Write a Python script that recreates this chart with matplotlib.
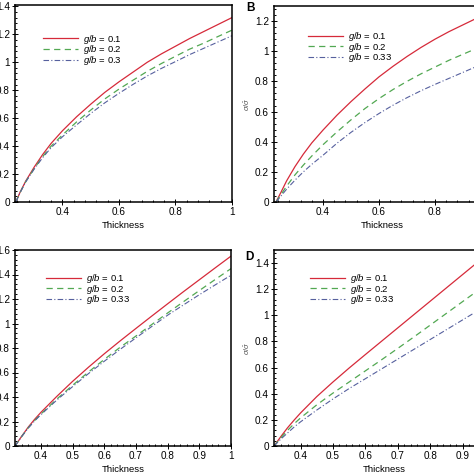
import numpy as np
import matplotlib
matplotlib.use('Agg')
import matplotlib.pyplot as plt
from matplotlib.ticker import MultipleLocator

plt.rcParams['font.family'] = ['Liberation Sans', 'DejaVu Sans']
plt.rcParams['mathtext.fontset'] = 'custom'
plt.rcParams['mathtext.rm'] = 'Liberation Sans'
plt.rcParams['mathtext.it'] = 'Liberation Sans:italic'

# --- data ---
# panel A
xa = [0.235, 0.25, 0.27, 0.30, 0.33, 0.36, 0.40, 0.45, 0.50, 0.55, 0.60, 0.65, 0.70, 0.75, 0.80, 0.85, 0.90, 0.95, 1.00]
ya_01 = [0, 0.07, 0.15, 0.25, 0.34, 0.42, 0.51, 0.61, 0.70, 0.785, 0.86, 0.93, 1.0, 1.06, 1.115, 1.17, 1.22, 1.27, 1.32]
ya_02 = [0, 0.068, 0.146, 0.24, 0.325, 0.40, 0.48, 0.573, 0.658, 0.738, 0.808, 0.872, 0.935, 0.991, 1.043, 1.094, 1.137, 1.184, 1.23]
ya_03 = [0, 0.067, 0.144, 0.236, 0.318, 0.389, 0.467, 0.552, 0.634, 0.71, 0.778, 0.842, 0.902, 0.956, 1.005, 1.055, 1.10, 1.145, 1.19]
labels_a = ['0.1', '0.2', '0.3']

# panel B
xb = [0.232, 0.25, 0.27, 0.30, 0.33, 0.36, 0.40, 0.45, 0.50, 0.55, 0.60, 0.65, 0.70, 0.75, 0.80, 0.85, 0.90, 0.95, 1.00]
yb_01 = [0, 0.065, 0.14, 0.235, 0.318, 0.392, 0.477, 0.576, 0.666, 0.75, 0.83, 0.90, 0.965, 1.025, 1.08, 1.13, 1.175, 1.22, 1.26]
yb_02 = [0, 0.05, 0.105, 0.18, 0.245, 0.305, 0.38, 0.465, 0.545, 0.62, 0.686, 0.746, 0.80, 0.85, 0.895, 0.94, 0.98, 1.02, 1.055]
yb_033 = [0, 0.04, 0.085, 0.145, 0.20, 0.25, 0.31, 0.39, 0.462, 0.527, 0.587, 0.642, 0.692, 0.738, 0.78, 0.82, 0.86, 0.90, 0.935]
labels_b = ['0.1', '0.2', '0.33']

# panel C
xc = [0.318, 0.34, 0.36, 0.38, 0.40, 0.45, 0.50, 0.55, 0.60, 0.65, 0.70, 0.75, 0.80, 0.85, 0.90, 0.95, 1.00]
yc_01 = [0, 0.083, 0.155, 0.218, 0.275, 0.405, 0.528, 0.643, 0.753, 0.858, 0.96, 1.061, 1.161, 1.26, 1.357, 1.454, 1.55]
yc_02 = [0, 0.081, 0.149, 0.208, 0.261, 0.383, 0.496, 0.604, 0.707, 0.806, 0.898, 0.992, 1.086, 1.178, 1.269, 1.359, 1.448]
yc_033 = [0, 0.080, 0.147, 0.205, 0.256, 0.375, 0.485, 0.591, 0.692, 0.789, 0.883, 0.976, 1.068, 1.152, 1.235, 1.315, 1.394]
labels_c = ['0.1', '0.2', '0.33']

# panel D
xd = [0.318, 0.34, 0.36, 0.38, 0.40, 0.45, 0.50, 0.55, 0.60, 0.65, 0.70, 0.75, 0.80, 0.85, 0.90, 0.95, 1.00]
yd_01 = [0, 0.075, 0.14, 0.198, 0.253, 0.378, 0.49, 0.597, 0.70, 0.802, 0.904, 1.006, 1.108, 1.21, 1.312, 1.414, 1.516]
yd_02 = [0, 0.065, 0.12, 0.17, 0.215, 0.315, 0.405, 0.49, 0.575, 0.66, 0.747, 0.835, 0.925, 1.015, 1.105, 1.195, 1.285]
yd_033 = [0, 0.055, 0.10, 0.145, 0.185, 0.275, 0.36, 0.44, 0.515, 0.59, 0.665, 0.74, 0.815, 0.89, 0.965, 1.04, 1.115]
labels_d = ['0.1', '0.2', '0.33']

RED = '#d62a3a'
GREEN = '#52a852'
BLUE = '#56609e'
W, H = 474.0, 474.0


def make_ax(fig, left, top, right, bottom):
    # pixel box -> figure fraction
    return fig.add_axes([left / W, 1 - bottom / H, (right - left) / W, (bottom - top) / H])


def fmt(limit):
    return plt.FuncFormatter(lambda v, p: f'{v:g}' if v <= limit else '')


def style(ax, xlim, ylim, xmaj, xmin, ymaj, ymin, xlab_max=1.01):
    ax.set_xlim(*xlim)
    ax.set_ylim(*ylim)
    ax.xaxis.set_major_locator(MultipleLocator(xmaj))
    ax.xaxis.set_minor_locator(MultipleLocator(xmin))
    ax.yaxis.set_major_locator(MultipleLocator(ymaj))
    ax.yaxis.set_minor_locator(MultipleLocator(ymin))
    ax.xaxis.set_major_formatter(fmt(xlab_max))
    ax.yaxis.set_major_formatter(fmt(10))
    ax.tick_params(which='both', top=False, right=False, labelsize=7.2, width=0.7)
    ax.tick_params(which='major', direction='inout', length=4.5, pad=1.5)
    ax.tick_params(which='minor', direction='in', length=1.6)
    for s in ax.spines.values():
        s.set_linewidth(1.1)
    ax.set_xlabel('Thickness', fontsize=6.8, labelpad=2.5)


def curves(ax, x, y1, y2, y3, labs, anchor):
    ax.plot(x, y1, color=RED, lw=0.9, label=rf'$g/b$ = {labs[0]}')
    ax.plot(x, y2, color=GREEN, lw=0.9, dashes=(5, 3.5), label=rf'$g/b$ = {labs[1]}')
    ax.plot(x, y3, color=BLUE, lw=0.8, dashes=(5, 2, 1, 2), label=rf'$g/b$ = {labs[2]}')
    ax.legend(loc='upper left', bbox_to_anchor=anchor, frameon=False, fontsize=6.8,
              handlelength=3.7, handletextpad=0.55, labelspacing=-0.25,
              borderpad=0, borderaxespad=0)


fig = plt.figure(figsize=(4.74, 4.74), dpi=100)

axA = make_ax(fig, 15, 5, 232, 202)
curves(axA, xa, ya_01, ya_02, ya_03, labels_a, (0.129, 0.86))
style(axA, (0.232, 1.0), (0, 1.41), 0.2, 0.04, 0.2, 0.04)

axB = make_ax(fig, 274, 6, 491, 202)
curves(axB, xb, yb_01, yb_02, yb_033, labels_b, (0.157, 0.877))
style(axB, (0.225, 1.0), (0, 1.3), 0.2, 0.04, 0.2, 0.04, xlab_max=0.95)
axB.set_ylabel(r'$\sigma/\bar{\sigma}$', fontsize=5.5, color='#555555', labelpad=2)
axB.text(-0.11, 0.99, 'B', transform=axB.transAxes, fontsize=8.5, fontweight='bold', va='center', ha='center')

axC = make_ax(fig, 15, 250, 231, 446)
curves(axC, xc, yc_01, yc_02, yc_033, labels_c, (0.143, 0.888))
style(axC, (0.318, 1.0), (0, 1.6), 0.1, 0.02, 0.2, 0.04)

axD = make_ax(fig, 274, 250, 495, 446)
curves(axD, xd, yd_01, yd_02, yd_033, labels_d, (0.163, 0.888))
style(axD, (0.318, 1.0), (0, 1.5), 0.1, 0.02, 0.2, 0.04, xlab_max=0.95)
axD.set_ylabel(r'$\sigma/\bar{\sigma}$', fontsize=5.5, color='#555555', labelpad=2)
axD.text(-0.11, 0.965, 'D', transform=axD.transAxes, fontsize=8.5, fontweight='bold', va='center', ha='center')

fig.savefig('out.png', dpi=100)
